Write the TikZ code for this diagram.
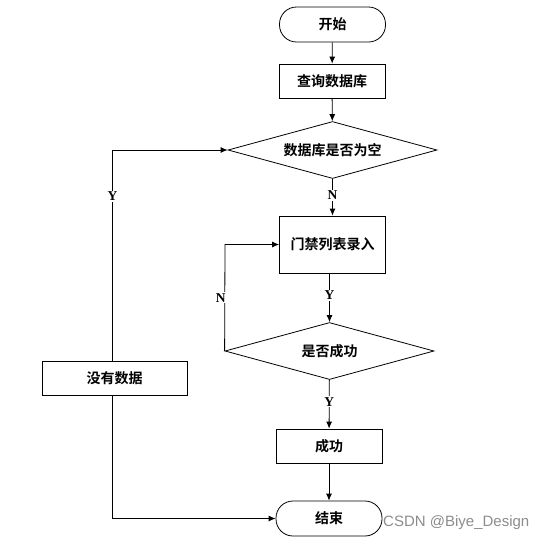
\documentclass[tikz,border=0pt]{standalone}
\usepackage{fontspec}
\newfontfamily\cjk{Noto Sans CJK SC}[BoldFont={* Bold}]
\newfontfamily\lat{Liberation Serif}
\newfontfamily\wm{Liberation Sans}
\usetikzlibrary{shapes.geometric,arrows.meta}
\begin{document}
\begin{tikzpicture}[x=1pt,y=-1pt,
  every node/.style={font=\cjk\bfseries\fontsize{14}{16}\selectfont},
  proc/.style={draw,line width=0.8pt,minimum width=106pt,minimum height=34pt,inner sep=0pt},
  term/.style={draw,line width=0.8pt,rounded corners=17pt,minimum width=106pt,minimum height=35pt,inner sep=0pt},
  dec/.style={draw,line width=0.8pt,diamond,aspect=3.7,minimum width=209pt,minimum height=57pt,inner sep=0pt},
  yn/.style={font=\lat\bfseries\fontsize{13.5}{15}\selectfont,fill=white,inner sep=1pt},
  arr/.style={-{Latex[length=7pt,width=6pt]},line width=0.8pt},
  ln/.style={line width=0.8pt}]
\useasboundingbox (0,0) rectangle (551,542);
\node[term] (start) at (332.5,24.5) {开始};
\node[proc] (query) at (332,81) {查询数据库};
\node[dec] (empty) at (332.5,150) {数据库是否为空};
\node[proc,minimum height=57pt] (entry) at (332.5,244.5) {门禁列表录入};
\node[dec] (ok) at (329.5,351) {是否成功};
\node[proc] (succ) at (329,446) {成功};
\node[term] (end) at (329,518.5) {结束};
\node[proc,minimum width=145pt] (nodata) at (114.5,378) {没有数据};
\draw[arr] (start) -- (query);
\draw[arr] (query) -- (empty);
\draw[arr] (empty) -- node[yn,pos=0.45] (n1) {N} (entry);
\draw[arr] (entry.south -| ok.north) -- node[yn,pos=0.45] (y1) {Y} (ok.north);
\draw[arr] (ok) -- node[yn,pos=0.45] (y2) {Y} (succ);
\draw[arr] (succ) -- (end);
\coordinate (c1) at (225,244.5);
\draw[arr] (ok.west) -- node[yn,pos=0.5,xshift=-4pt] (n2) {N} (c1) -- (entry.west);
\coordinate (c2) at (112.5,150);
\draw[arr] (nodata.north -| c2) -- node[yn,pos=0.78] (y3) {Y} (c2) -- (empty.west);
\coordinate (c3) at (112.5,518.5);
\draw[arr] (nodata.south -| c3) -- (c3) -- (end.west);
\node[font=\wm\fontsize{15}{17}\selectfont,text=black!45,anchor=west,inner sep=0pt] (wmk) at (383,523) {CSDN @Biye\_Design};
\end{tikzpicture}
\end{document}
